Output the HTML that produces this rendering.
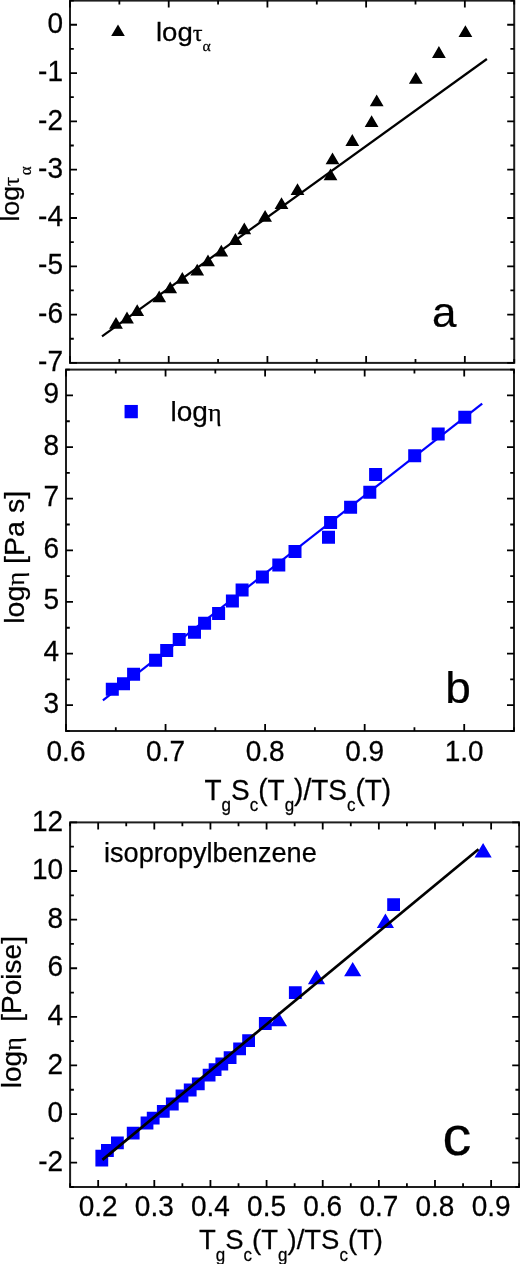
<!DOCTYPE html><html><head><meta charset="utf-8"><style>html,body{margin:0;padding:0;background:#fff;}svg{display:block}</style></head><body>
<svg width="520" height="1264" viewBox="0 0 520 1264" font-family='"Liberation Sans", sans-serif' fill="#000">
<rect width="520" height="1264" fill="#fff"/>
<rect x="70.00" y="0.60" width="444.20" height="362.30" fill="none" stroke="#1e1e1e" stroke-width="2.0"/>
<path d="M70.00 362.90v-7.0M70.00 0.60v7.0M168.71 362.90v-7.0M168.71 0.60v7.0M267.42 362.90v-7.0M267.42 0.60v7.0M366.13 362.90v-7.0M366.13 0.60v7.0M464.84 362.90v-7.0M464.84 0.60v7.0M119.36 362.90v-3.8M119.36 0.60v3.8M218.07 362.90v-3.8M218.07 0.60v3.8M316.78 362.90v-3.8M316.78 0.60v3.8M415.49 362.90v-3.8M415.49 0.60v3.8M514.20 362.90v-3.8M514.20 0.60v3.8M70.00 362.90h7.0M514.20 362.90h-7.0M70.00 314.59h7.0M514.20 314.59h-7.0M70.00 266.29h7.0M514.20 266.29h-7.0M70.00 217.98h7.0M514.20 217.98h-7.0M70.00 169.67h7.0M514.20 169.67h-7.0M70.00 121.37h7.0M514.20 121.37h-7.0M70.00 73.06h7.0M514.20 73.06h-7.0M70.00 24.75h7.0M514.20 24.75h-7.0M70.00 338.75h3.8M514.20 338.75h-3.8M70.00 290.44h3.8M514.20 290.44h-3.8M70.00 242.13h3.8M514.20 242.13h-3.8M70.00 193.83h3.8M514.20 193.83h-3.8M70.00 145.52h3.8M514.20 145.52h-3.8M70.00 97.21h3.8M514.20 97.21h-3.8M70.00 48.91h3.8M514.20 48.91h-3.8M70.00 0.60h3.8M514.20 0.60h-3.8" stroke="#000" stroke-width="1.8" fill="none"/>
<text transform="translate(63.00 371.10) scale(1.0 1.03)" font-size="28" text-anchor="end" stroke="#000" stroke-width="0.25" >-7</text>
<text transform="translate(63.00 322.79) scale(1.0 1.03)" font-size="28" text-anchor="end" stroke="#000" stroke-width="0.25" >-6</text>
<text transform="translate(63.00 274.49) scale(1.0 1.03)" font-size="28" text-anchor="end" stroke="#000" stroke-width="0.25" >-5</text>
<text transform="translate(63.00 226.18) scale(1.0 1.03)" font-size="28" text-anchor="end" stroke="#000" stroke-width="0.25" >-4</text>
<text transform="translate(63.00 177.87) scale(1.0 1.03)" font-size="28" text-anchor="end" stroke="#000" stroke-width="0.25" >-3</text>
<text transform="translate(63.00 129.57) scale(1.0 1.03)" font-size="28" text-anchor="end" stroke="#000" stroke-width="0.25" >-2</text>
<text transform="translate(63.00 81.26) scale(1.0 1.03)" font-size="28" text-anchor="end" stroke="#000" stroke-width="0.25" >-1</text>
<text transform="translate(63.00 32.95) scale(1.0 1.03)" font-size="28" text-anchor="end" stroke="#000" stroke-width="0.25" >0</text>
<path d="M102 336.4L486.9 59" stroke="#000" stroke-width="2.2" fill="none"/>
<path d="M116.00 316.90L122.90 328.70L109.10 328.70ZM127.00 311.60L133.90 323.40L120.10 323.40ZM137.20 304.30L144.10 316.10L130.30 316.10ZM159.20 290.40L166.10 302.20L152.30 302.20ZM170.20 281.40L177.10 293.20L163.30 293.20ZM182.30 271.90L189.20 283.70L175.40 283.70ZM197.20 263.80L204.10 275.60L190.30 275.60ZM208.00 254.50L214.90 266.30L201.10 266.30ZM221.30 244.80L228.20 256.60L214.40 256.60ZM235.40 233.10L242.30 244.90L228.50 244.90ZM244.30 222.40L251.20 234.20L237.40 234.20ZM265.10 209.90L272.00 221.70L258.20 221.70ZM281.50 197.30L288.40 209.10L274.60 209.10ZM297.50 183.30L304.40 195.10L290.60 195.10ZM330.50 168.40L337.40 180.20L323.60 180.20ZM332.50 152.40L339.40 164.20L325.60 164.20ZM352.30 134.10L359.20 145.90L345.40 145.90ZM371.60 115.20L378.50 127.00L364.70 127.00ZM376.70 94.40L383.60 106.20L369.80 106.20ZM415.80 72.00L422.70 83.80L408.90 83.80ZM438.90 46.10L445.80 57.90L432.00 57.90ZM465.40 25.30L472.30 37.10L458.50 37.10Z" fill="#000"/>
<path d="M118.00 24.50L124.80 35.90L111.20 35.90Z" fill="#000"/>
<text transform="translate(156.00 40.80) scale(1.04 1.0)" font-size="26.5" stroke="#000" stroke-width="0.25" >log<tspan font-family='"Liberation Serif", "DejaVu Serif", serif' font-size="23.5">τ</tspan><tspan font-family='"Liberation Serif", "DejaVu Serif", serif' font-size="15" dy="10.5">α</tspan></text>
<text transform="translate(432.00 326.90) scale(1.0 0.97)" font-size="44" stroke="#000" stroke-width="0.25" >a</text>
<text transform="translate(19.20 221.50) rotate(-90) scale(1.0 1.0)" font-size="26.5" stroke="#000" stroke-width="0.25" >log<tspan font-family='"Liberation Serif", "DejaVu Serif", serif' font-size="23.5">τ</tspan><tspan font-family='"Liberation Serif", "DejaVu Serif", serif' font-size="17" dx="1.5" dy="11.3">α</tspan></text>
<rect x="66.00" y="369.60" width="448.00" height="361.40" fill="none" stroke="#1e1e1e" stroke-width="2.0"/>
<path d="M66.00 731.00v-7.0M66.00 369.60v7.0M165.56 731.00v-7.0M165.56 369.60v7.0M265.11 731.00v-7.0M265.11 369.60v7.0M364.67 731.00v-7.0M364.67 369.60v7.0M464.22 731.00v-7.0M464.22 369.60v7.0M115.78 731.00v-3.8M115.78 369.60v3.8M215.33 731.00v-3.8M215.33 369.60v3.8M314.89 731.00v-3.8M314.89 369.60v3.8M414.44 731.00v-3.8M414.44 369.60v3.8M514.00 731.00v-3.8M514.00 369.60v3.8M66.00 705.19h7.0M514.00 705.19h-7.0M66.00 653.56h7.0M514.00 653.56h-7.0M66.00 601.93h7.0M514.00 601.93h-7.0M66.00 550.30h7.0M514.00 550.30h-7.0M66.00 498.67h7.0M514.00 498.67h-7.0M66.00 447.04h7.0M514.00 447.04h-7.0M66.00 395.41h7.0M514.00 395.41h-7.0M66.00 731.00h3.8M514.00 731.00h-3.8M66.00 679.37h3.8M514.00 679.37h-3.8M66.00 627.74h3.8M514.00 627.74h-3.8M66.00 576.11h3.8M514.00 576.11h-3.8M66.00 524.49h3.8M514.00 524.49h-3.8M66.00 472.86h3.8M514.00 472.86h-3.8M66.00 421.23h3.8M514.00 421.23h-3.8M66.00 369.60h3.8M514.00 369.60h-3.8" stroke="#000" stroke-width="1.8" fill="none"/>
<text transform="translate(59.00 712.69) scale(1.0 1.03)" font-size="28" text-anchor="end" stroke="#000" stroke-width="0.25" >3</text>
<text transform="translate(59.00 661.06) scale(1.0 1.03)" font-size="28" text-anchor="end" stroke="#000" stroke-width="0.25" >4</text>
<text transform="translate(59.00 609.43) scale(1.0 1.03)" font-size="28" text-anchor="end" stroke="#000" stroke-width="0.25" >5</text>
<text transform="translate(59.00 557.80) scale(1.0 1.03)" font-size="28" text-anchor="end" stroke="#000" stroke-width="0.25" >6</text>
<text transform="translate(59.00 506.17) scale(1.0 1.03)" font-size="28" text-anchor="end" stroke="#000" stroke-width="0.25" >7</text>
<text transform="translate(59.00 454.54) scale(1.0 1.03)" font-size="28" text-anchor="end" stroke="#000" stroke-width="0.25" >8</text>
<text transform="translate(59.00 402.91) scale(1.0 1.03)" font-size="28" text-anchor="end" stroke="#000" stroke-width="0.25" >9</text>
<text transform="translate(66.00 761.00) scale(1.0 1.03)" font-size="28" text-anchor="middle" stroke="#000" stroke-width="0.25" >0.6</text>
<text transform="translate(165.56 761.00) scale(1.0 1.03)" font-size="28" text-anchor="middle" stroke="#000" stroke-width="0.25" >0.7</text>
<text transform="translate(265.11 761.00) scale(1.0 1.03)" font-size="28" text-anchor="middle" stroke="#000" stroke-width="0.25" >0.8</text>
<text transform="translate(364.67 761.00) scale(1.0 1.03)" font-size="28" text-anchor="middle" stroke="#000" stroke-width="0.25" >0.9</text>
<text transform="translate(464.22 761.00) scale(1.0 1.03)" font-size="28" text-anchor="middle" stroke="#000" stroke-width="0.25" >1.0</text>
<path d="M102.9 700.3L482.2 403.7" stroke="#0000ff" stroke-width="2.2" fill="none"/>
<path d="M105.80 682.70h13v13h-13ZM117.00 677.30h13v13h-13ZM127.10 667.80h13v13h-13ZM149.10 653.80h13v13h-13ZM160.20 644.10h13v13h-13ZM172.70 633.10h13v13h-13ZM188.00 625.80h13v13h-13ZM198.10 616.70h13v13h-13ZM212.10 607.10h13v13h-13ZM225.90 594.50h13v13h-13ZM235.60 583.60h13v13h-13ZM255.90 570.50h13v13h-13ZM272.30 558.50h13v13h-13ZM288.50 544.90h13v13h-13ZM322.00 530.80h13v13h-13ZM324.10 516.00h13v13h-13ZM344.10 500.70h13v13h-13ZM363.30 485.70h13v13h-13ZM369.10 467.90h13v13h-13ZM408.20 449.30h13v13h-13ZM431.70 427.50h13v13h-13ZM458.30 410.80h13v13h-13Z" fill="#0000ff"/>
<path d="M124.55 404.95h13.3v13.3h-13.3Z" fill="#0000ff"/>
<text transform="translate(170.50 420.60) scale(1.0 1.0)" font-size="28" stroke="#000" stroke-width="0.25" >log<tspan font-family='"Liberation Serif", "DejaVu Serif", serif' font-size="26">η</tspan></text>
<text transform="translate(445.30 702.90) scale(1.0 0.955)" font-size="46" stroke="#000" stroke-width="0.25" >b</text>
<text transform="translate(23.60 623.80) rotate(-90) scale(1.02 1.0)" font-size="28" stroke="#000" stroke-width="0.25" >log<tspan font-family='"Liberation Serif", "DejaVu Serif", serif' font-size="26">η</tspan> [Pa s]</text>
<text transform="translate(204.50 799.80) scale(1.0 1.03)" font-size="28" stroke="#000" stroke-width="0.25" >T<tspan font-size="17" dy="10.8">g</tspan><tspan dy="-10.8">S</tspan><tspan font-size="17" dy="10.8">c</tspan><tspan dy="-10.8">(T</tspan><tspan font-size="17" dy="10.8">g</tspan><tspan dy="-10.8">)/TS</tspan><tspan font-size="17" dy="10.8">c</tspan><tspan dy="-10.8">(T)</tspan></text>
<rect x="70.10" y="822.40" width="449.10" height="364.60" fill="none" stroke="#1e1e1e" stroke-width="2.0"/>
<path d="M98.17 1187.00v-7.0M98.17 822.40v7.0M154.31 1187.00v-7.0M154.31 822.40v7.0M210.44 1187.00v-7.0M210.44 822.40v7.0M266.58 1187.00v-7.0M266.58 822.40v7.0M322.72 1187.00v-7.0M322.72 822.40v7.0M378.86 1187.00v-7.0M378.86 822.40v7.0M434.99 1187.00v-7.0M434.99 822.40v7.0M491.13 1187.00v-7.0M491.13 822.40v7.0M70.10 1187.00v-3.8M70.10 822.40v3.8M126.24 1187.00v-3.8M126.24 822.40v3.8M182.38 1187.00v-3.8M182.38 822.40v3.8M238.51 1187.00v-3.8M238.51 822.40v3.8M294.65 1187.00v-3.8M294.65 822.40v3.8M350.79 1187.00v-3.8M350.79 822.40v3.8M406.92 1187.00v-3.8M406.92 822.40v3.8M463.06 1187.00v-3.8M463.06 822.40v3.8M519.20 1187.00v-3.8M519.20 822.40v3.8M70.10 1162.69h7.0M519.20 1162.69h-7.0M70.10 1114.08h7.0M519.20 1114.08h-7.0M70.10 1065.47h7.0M519.20 1065.47h-7.0M70.10 1016.85h7.0M519.20 1016.85h-7.0M70.10 968.24h7.0M519.20 968.24h-7.0M70.10 919.63h7.0M519.20 919.63h-7.0M70.10 871.01h7.0M519.20 871.01h-7.0M70.10 822.40h7.0M519.20 822.40h-7.0M70.10 1187.00h3.8M519.20 1187.00h-3.8M70.10 1138.39h3.8M519.20 1138.39h-3.8M70.10 1089.77h3.8M519.20 1089.77h-3.8M70.10 1041.16h3.8M519.20 1041.16h-3.8M70.10 992.55h3.8M519.20 992.55h-3.8M70.10 943.93h3.8M519.20 943.93h-3.8M70.10 895.32h3.8M519.20 895.32h-3.8M70.10 846.71h3.8M519.20 846.71h-3.8" stroke="#000" stroke-width="1.8" fill="none"/>
<text transform="translate(63.10 1170.89) scale(1.0 1.03)" font-size="28" text-anchor="end" stroke="#000" stroke-width="0.25" >-2</text>
<text transform="translate(63.10 1122.28) scale(1.0 1.03)" font-size="28" text-anchor="end" stroke="#000" stroke-width="0.25" >0</text>
<text transform="translate(63.10 1073.67) scale(1.0 1.03)" font-size="28" text-anchor="end" stroke="#000" stroke-width="0.25" >2</text>
<text transform="translate(63.10 1025.05) scale(1.0 1.03)" font-size="28" text-anchor="end" stroke="#000" stroke-width="0.25" >4</text>
<text transform="translate(63.10 976.44) scale(1.0 1.03)" font-size="28" text-anchor="end" stroke="#000" stroke-width="0.25" >6</text>
<text transform="translate(63.10 927.83) scale(1.0 1.03)" font-size="28" text-anchor="end" stroke="#000" stroke-width="0.25" >8</text>
<text transform="translate(63.10 879.21) scale(1.0 1.03)" font-size="28" text-anchor="end" stroke="#000" stroke-width="0.25" >10</text>
<text transform="translate(63.10 830.60) scale(1.0 1.03)" font-size="28" text-anchor="end" stroke="#000" stroke-width="0.25" >12</text>
<text transform="translate(98.17 1216.30) scale(1.0 1.03)" font-size="28" text-anchor="middle" stroke="#000" stroke-width="0.25" >0.2</text>
<text transform="translate(154.31 1216.30) scale(1.0 1.03)" font-size="28" text-anchor="middle" stroke="#000" stroke-width="0.25" >0.3</text>
<text transform="translate(210.44 1216.30) scale(1.0 1.03)" font-size="28" text-anchor="middle" stroke="#000" stroke-width="0.25" >0.4</text>
<text transform="translate(266.58 1216.30) scale(1.0 1.03)" font-size="28" text-anchor="middle" stroke="#000" stroke-width="0.25" >0.5</text>
<text transform="translate(322.72 1216.30) scale(1.0 1.03)" font-size="28" text-anchor="middle" stroke="#000" stroke-width="0.25" >0.6</text>
<text transform="translate(378.86 1216.30) scale(1.0 1.03)" font-size="28" text-anchor="middle" stroke="#000" stroke-width="0.25" >0.7</text>
<text transform="translate(434.99 1216.30) scale(1.0 1.03)" font-size="28" text-anchor="middle" stroke="#000" stroke-width="0.25" >0.8</text>
<text transform="translate(491.13 1216.30) scale(1.0 1.03)" font-size="28" text-anchor="middle" stroke="#000" stroke-width="0.25" >0.9</text>
<path d="M95.40 1149.80h12.8v12.8h-12.8ZM95.40 1153.80h12.8v12.8h-12.8ZM101.00 1144.10h12.8v12.8h-12.8ZM111.00 1136.40h12.8v12.8h-12.8ZM126.80 1126.70h12.8v12.8h-12.8ZM140.60 1116.60h12.8v12.8h-12.8ZM146.80 1111.80h12.8v12.8h-12.8ZM156.90 1105.00h12.8v12.8h-12.8ZM165.90 1097.60h12.8v12.8h-12.8ZM175.60 1089.60h12.8v12.8h-12.8ZM183.80 1083.60h12.8v12.8h-12.8ZM191.90 1077.40h12.8v12.8h-12.8ZM202.70 1068.70h12.8v12.8h-12.8ZM208.70 1063.20h12.8v12.8h-12.8ZM215.40 1057.60h12.8v12.8h-12.8ZM223.70 1051.30h12.8v12.8h-12.8ZM233.20 1042.50h12.8v12.8h-12.8ZM242.20 1034.20h12.8v12.8h-12.8ZM258.90 1017.10h12.8v12.8h-12.8ZM288.90 986.30h12.8v12.8h-12.8ZM387.20 898.20h12.8v12.8h-12.8Z" fill="#0000ff"/>
<path d="M278.50 1011.90L287.10 1026.30L269.90 1026.30ZM316.50 969.80L325.10 984.20L307.90 984.20ZM352.70 961.90L361.30 976.30L344.10 976.30ZM385.40 913.60L394.00 928.00L376.80 928.00ZM483.10 843.10L491.70 857.50L474.50 857.50Z" fill="#0000ff"/>
<path d="M102.4 1159.9L478.5 849.2" stroke="#000" stroke-width="2.7" fill="none"/>
<text transform="translate(104.00 861.70) scale(1.0 1.0)" font-size="27.15" stroke="#000" stroke-width="0.25" >isopropylbenzene</text>
<text transform="translate(442.60 1154.60) scale(1.03 0.98)" font-size="56" stroke="#000" stroke-width="0.25" >c</text>
<text transform="translate(21.20 1088.20) rotate(-90) scale(1.0 1.0)" font-size="28" stroke="#000" stroke-width="0.25" >log<tspan font-family='"Liberation Serif", "DejaVu Serif", serif' font-size="26">η</tspan>  [Poise]</text>
<text transform="translate(199.00 1249.40) scale(1.0 1.03)" font-size="27.5" stroke="#000" stroke-width="0.25" >T<tspan font-size="17" dy="10.8">g</tspan><tspan dy="-10.8">S</tspan><tspan font-size="17" dy="10.8">c</tspan><tspan dy="-10.8">(T</tspan><tspan font-size="17" dy="10.8">g</tspan><tspan dy="-10.8">)/TS</tspan><tspan font-size="17" dy="10.8">c</tspan><tspan dy="-10.8">(T)</tspan></text>
</svg></body></html>
